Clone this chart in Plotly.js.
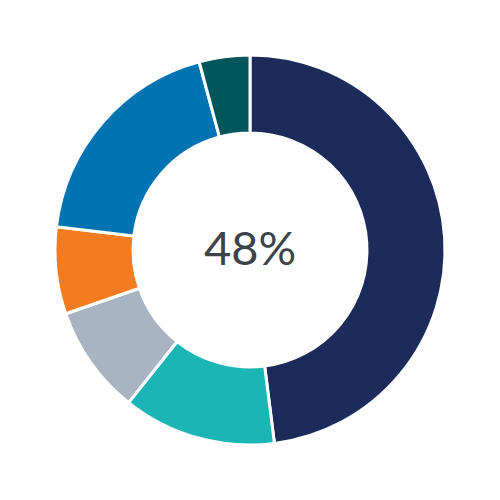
<!DOCTYPE html>
<html>
<head>
<meta charset="utf-8">
<script src="https://cdn.plot.ly/plotly-3.0.1.min.js"></script>
<style>
  html, body { margin: 0; padding: 0; background: #fff; }
  #chart { width: 500px; height: 500px; }
</style>
</head>
<body>
<div id="chart"></div>
<script>
// Slice values, clockwise from the top
var labels = ['A', 'B', 'C', 'D', 'E', 'F'];
var values = [48, 12.7, 9, 7.2, 18.9, 4.2];
var colors = ['#1c2b5a', '#1cb5b5', '#a9b4c2', '#f47c20', '#0074b3', '#00565a'];

// Center label
var centerText = '48%';

var data = [{
    type: 'pie',
    labels: labels,
    values: values,
    sort: false,
    direction: 'clockwise',
    rotation: 0,
    hole: 0.6,
    textinfo: 'none',
    hoverinfo: 'none',
    marker: {colors: colors, line: {color: '#ffffff', width: 3}},
    domain: {x: [0.11, 0.89], y: [0.11, 0.89]}
}];

var layout = {
    width: 500,
    height: 500,
    margin: {l: 0, r: 0, t: 0, b: 0},
    showlegend: false,
    paper_bgcolor: '#ffffff',
    annotations: [{
        text: centerText,
        x: 0.5, y: 0.5,
        xref: 'paper', yref: 'paper',
        yshift: 3,
        showarrow: false,
        font: {family: 'Lato', size: 47, color: '#3d4349'}
    }]
};

Plotly.newPlot('chart', data, layout, {displayModeBar: false, staticPlot: true});
</script>
</body>
</html>
